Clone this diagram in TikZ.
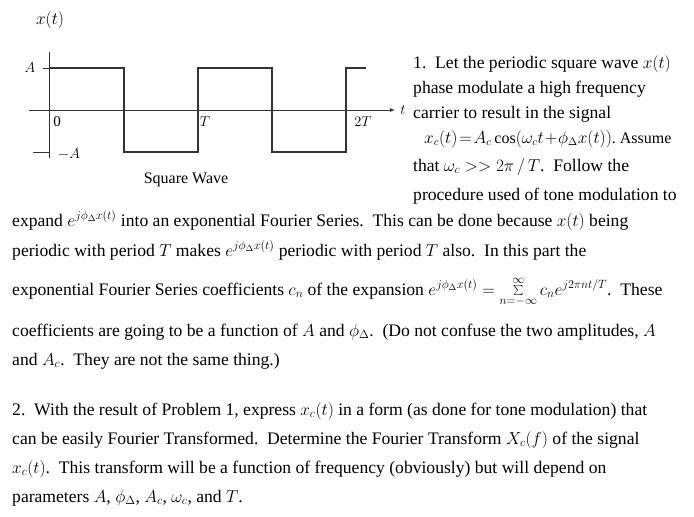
\documentclass[tikz,border=0pt]{standalone}
\usepackage{fontspec}
\setmainfont{Liberation Serif}
\begin{document}
\begin{tikzpicture}[x=1pt,y=-1pt,
  txt/.style={anchor=base west,inner sep=0pt,font=\fontsize{17.6}{20}\selectfont},
  lab/.style={inner sep=0pt,font=\fontsize{15}{17}\selectfont},
  wave/.style={line width=1.3pt,black!80},
  axis/.style={line width=0.8pt,black!80}]
\useasboundingbox (0,0) rectangle (694,517);
% axes
\coordinate (ax0) at (29,110);
\coordinate (ax1) at (395,110);
\coordinate (ay0) at (49,158);
\coordinate (ay1) at (49,52);
\draw[axis,-latex] (ax0) -- (ax1);
\draw[axis] (ay0) -- (ay1);
\draw[axis] (33,152) -- (49,152);
\draw[axis] (43,68) -- (49,68);
\draw[wave] (49,68) -- (124,68) -- (124,152) -- (198,152) -- (198,68) -- (272,68) -- (272,152) -- (346,152) -- (346,68) -- (366,68);
\node[lab,font=\fontsize{18}{20}\selectfont] (xt) at (50,20) {$x(t)$};
\node[lab] (lA) at (30,68) {$A$};
\node[lab] (lmA) at (69,154) {$-A$};
\node[lab] (l0) at (57,122) {0};
\node[lab] (lT) at (205,122) {$T$};
\node[lab] (l2T) at (363,122) {$2T$};
\node[lab] (lt) at (403,110) {$t$};
\node[lab,font=\fontsize{16}{18}\selectfont] (sw) at (186,180) {Square Wave};
% text
\node[txt] (t1) at (413,68) {1.\ \ Let the periodic square wave $x(t)$};
\node[txt] (t2) at (413,93) {phase modulate a high frequency};
\node[txt] (t3) at (413,118) {carrier to result in the signal};
\node[txt,font=\fontsize{16}{18}\selectfont] (t4) at (424,143) {$x_c(t)\!=\!A_c\cos(\omega_c t\!+\!\phi_\Delta x(t))$.\ Assume};
\node[txt] (t5) at (413,171) {that $\omega_c>>2\pi\,/\,T$.\ \ Follow the};
\node[txt] (t6) at (413,200) {procedure used of tone modulation to};
\node[txt] (t7) at (12,226) {expand $e^{j\phi_\Delta x(t)}$ into an exponential Fourier Series.\ \ This can be done because $x(t)$ being};
\node[txt] (t8) at (12,256) {periodic with period $T$ makes $e^{j\phi_\Delta x(t)}$ periodic with period $T$ also.\ \ In this part the};
\node[txt] (t9) at (12,295) {exponential Fourier Series coefficients $c_n$ of the expansion $e^{j\phi_\Delta x(t)}=\sum\limits_{n=-\infty}^{\infty}c_n e^{j2\pi nt/T}$.\ \ These};
\node[txt] (t10) at (12,336) {coefficients are going to be a function of $A$ and $\phi_\Delta$.\ \ (Do not confuse the two amplitudes, $A$};
\node[txt] (t11) at (12,365) {and $A_c$.\ \ They are not the same thing.)};
\node[txt] (t12) at (12,415) {2.\ \ With the result of Problem 1, express $x_c(t)$ in a form (as done for tone modulation) that};
\node[txt] (t13) at (12,444) {can be easily Fourier Transformed.\ \ Determine the Fourier Transform $X_c(f)$ of the signal};
\node[txt] (t14) at (12,473) {$x_c(t)$.\ \ This transform will be a function of frequency (obviously) but will depend on};
\node[txt] (t15) at (12,502) {parameters $A$, $\phi_\Delta$, $A_c$, $\omega_c$, and $T$.};
\end{tikzpicture}
\end{document}
